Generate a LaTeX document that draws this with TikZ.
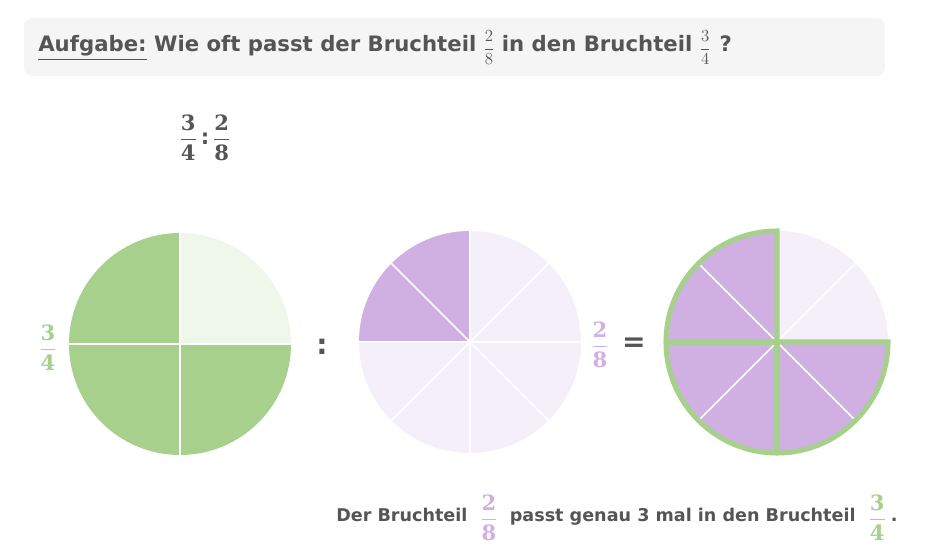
\documentclass[tikz,border=0pt]{standalone}
\usepackage[no-math]{fontspec}
\setmainfont{DejaVu Sans}
\newfontfamily\fracfont{DejaVu Serif}
\usepackage{amsmath}
\usepackage{xcolor}
\usetikzlibrary{positioning,calc}
\definecolor{txtgray}{HTML}{555555}
\definecolor{bargray}{HTML}{F5F5F5}
\definecolor{grn}{HTML}{A8D08D}
\definecolor{grnlight}{HTML}{EFF6EA}
\definecolor{lila}{HTML}{D0B0E3}
\definecolor{lilalight}{HTML}{F4EFF9}
\newcommand{\bfrac}[2]{$\genfrac{}{}{1.1pt}{0}{\text{\fracfont\bfseries #1}}{\text{\fracfont\bfseries #2}}$}
\begin{document}
\begin{tikzpicture}
      [x=0.025cm,y=0.025cm,
       bar/.style={rectangle,rounded corners=6pt,fill=bargray,minimum width=21.525cm,minimum height=1.45cm},
       words/.style={text=txtgray,font=\fontsize{15.1}{17}\selectfont\bfseries,inner sep=0pt,text height=0.75em,text depth=0.25em},
       small/.style={words,font=\fontsize{12.5}{15}\selectfont\bfseries},
       thin/.style={text=txtgray,font=\fontsize{11.5}{12}\selectfont,inner sep=0pt},
       frac/.style={text=txtgray,font=\fontsize{15}{16}\selectfont,inner sep=0pt},
       sign/.style={text=txtgray,font=\fontsize{20}{22}\selectfont\bfseries,inner sep=0pt},
       cut/.style={white,line width=1.2pt},
       rim/.style={grn,line width=3.6pt}]
        \useasboundingbox (0,0) rectangle (943,-556);
        \node (B) at (454.5,-47) [bar] {};
        \node (T1) at (38,-48) [words,anchor=west] {\underline{Aufgabe:} Wie oft passt der Bruchteil};
        \node (F1) [thin,right=0.16cm of T1] {$\dfrac{2}{8}$};
        \node (T2) [words,right=0.16cm of F1] {in den Bruchteil};
        \node (F2) [thin,right=0.16cm of T2] {$\dfrac{3}{4}$};
        \node (T3) [words,right=0.2cm of F2] {?};
        \node (Q) at (205,-138) [frac] {\bfrac{3}{4}\,\textbf{:}\,\bfrac{2}{8}};

        \coordinate (C1) at (180,-344);
        \coordinate (C2) at (470,-342);
        \coordinate (C3) at (777,-342);

        \fill[grn] (C1) -- ++(90:111) arc (90:360:111) -- cycle;
        \fill[grnlight] (C1) -- ++(0:111) arc (0:90:111) -- cycle;
        \draw[cut] (C1) -- ++(0:111) (C1) -- ++(90:111) (C1) -- ++(180:111) (C1) -- ++(270:111);

        \fill[lilalight] (C2) circle (111);
        \fill[lila] (C2) -- ++(90:111) arc (90:180:111) -- cycle;
        \foreach \a in {0,45,...,315}
          \draw[cut] (C2) -- ++(\a:111);

        \fill[lilalight] (C3) -- ++(0:111) arc (0:90:111) -- cycle;
        \fill[lila] (C3) -- ++(90:111) arc (90:360:111) -- cycle;
        \foreach \a in {45,135,225,315}
          \draw[cut] (C3) -- ++(\a:111);
        \draw[rim,line join=miter] (C3) -- ++(90:111) arc (90:360:111) -- cycle;
        \draw[rim] (C3) -- ++(180:111) (C3) -- ++(270:111);

        \node (L1) at (48,-348) [frac,text=grn] {\bfrac{3}{4}};
        \node (D) at (322,-347) [sign] {:};
        \node (L2) at (600,-345) [frac,text=lila] {\bfrac{2}{8}};
        \node (E) at (634,-345) [sign] {=};

        \node (S1) at (336,-518) [small,anchor=west] {Der Bruchteil};
        \node (S2) [frac,text=lila,right=0.3cm of S1] {\bfrac{2}{8}};
        \node (S3) [small,right=0.28cm of S2] {passt genau 3 mal in den Bruchteil};
        \node (S4) [frac,text=grn,right=0.3cm of S3] {\bfrac{3}{4}};
        \node (S5) [small,right=0.1cm of S4] {.};
      \end{tikzpicture}
\end{document}
